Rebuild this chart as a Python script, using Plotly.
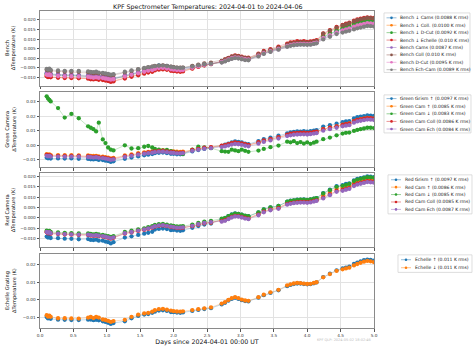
import numpy as np
import plotly.graph_objects as go

# ---------------- data (temperatures in mK relative to mean) ----------------
days = [0.10, 0.12, 0.14, 0.16, 0.27, 0.37, 0.47, 0.58,
        0.72, 0.76, 0.80, 0.84, 0.88, 0.94, 0.98, 1.02, 1.06, 1.10,
        1.27, 1.37, 1.47, 1.56, 1.62, 1.68, 1.72, 1.78, 1.84, 1.90, 1.96,
        2.00, 2.05, 2.10, 2.14, 2.28, 2.37, 2.46, 2.56,
        2.72, 2.77, 2.82, 2.87, 2.92, 2.97, 3.02, 3.07, 3.12,
        3.27, 3.35, 3.45, 3.57,
        3.70, 3.75, 3.80, 3.85, 3.90, 3.95, 4.00, 4.05, 4.10, 4.14,
        4.24, 4.34, 4.44, 4.53, 4.58, 4.63,
        4.70, 4.75, 4.80, 4.85, 4.90, 4.95, 5.00]

# Panel 1: Bench
bench_below_cams = [-8.0, -8.5, -7.9, -8.6, -8.8, -9.0, -9.1, -9.0,
    -9.4, -9.3, -9.8, -9.4, -9.9, -10.0, -10.4, -10.5, -11.0, -10.6,
    -9.2, -8.4, -7.5, -6.6, -5.9, -5.2, -4.2, -3.7, -3.9, -4.0, -4.6,
    -4.8, -5.1, -5.2, -5.1, -4.4, -3.7, -3.1, -2.8,
    -1.8, -1.0, -0.5, 0.4, 0.7, 0.3, 0.1, -0.4, -0.4,
    1.6, 2.9, 3.9, 5.1,
    6.6, 7.2, 7.1, 7.7, 7.5, 7.8, 7.4, 7.7, 8.1, 8.4,
    11.0, 12.6, 14.1, 15.2, 15.6, 16.2,
    17.3, 17.9, 18.2, 18.8, 19.0, 19.1, 18.8]
bench_below_coll = [-9.0, -9.4, -9.0, -9.6, -9.8, -10.0, -10.0, -10.1,
    -10.3, -10.6, -10.7, -10.5, -10.9, -11.0, -11.3, -11.5, -11.9, -11.7,
    -10.1, -9.3, -8.5, -7.7, -7.2, -6.8, -6.0, -5.6, -5.4, -5.7, -6.2,
    -6.3, -6.6, -6.8, -6.6, -5.2, -4.3, -3.6, -3.0,
    -1.8, -1.0, -0.2, 0.5, 1.0, 0.8, 0.3, 0.0, -0.2,
    1.8, 3.1, 4.1, 5.3,
    7.0, 7.6, 7.8, 8.2, 8.1, 8.3, 8.0, 8.4, 8.6, 9.0,
    12.2, 13.8, 15.4, 16.4, 17.1, 17.5,
    18.6, 19.2, 19.4, 20.0, 20.3, 20.2, 20.0]
bench_below_dcut = [-8.2, -8.1, -8.3, -8.4, -8.7, -9.0, -8.9, -9.1,
    -9.2, -9.6, -9.6, -9.5, -9.7, -10.0, -10.2, -10.6, -10.8, -10.7,
    -9.3, -8.5, -7.6, -6.9, -6.4, -5.9, -5.3, -4.9, -4.8, -5.1, -5.5,
    -5.8, -6.0, -6.1, -6.0, -4.9, -4.1, -3.5, -3.0,
    -1.9, -1.3, -0.5, 0.2, 0.7, 0.5, 0.0, -0.4, -0.6,
    1.5, 2.8, 3.8, 5.0,
    6.5, 7.1, 7.2, 7.6, 7.6, 7.7, 7.4, 7.7, 8.0, 8.4,
    11.4, 12.9, 14.5, 15.6, 16.0, 16.6,
    17.6, 18.3, 18.5, 19.0, 19.4, 19.3, 19.0]
bench_below_echelle = [-9.3, -9.8, -9.2, -9.9, -10.1, -10.3, -10.3, -10.4,
    -10.6, -10.9, -11.0, -10.8, -11.2, -11.3, -11.6, -11.8, -12.3, -12.0,
    -10.5, -9.6, -8.8, -8.0, -7.4, -7.0, -6.3, -5.9, -5.8, -6.0, -6.5,
    -6.7, -6.9, -7.0, -6.8, -5.4, -4.5, -3.7, -3.0,
    -1.5, -0.6, 0.2, 1.0, 1.5, 1.3, 0.8, 0.4, 0.3,
    2.4, 3.8, 4.8, 6.1,
    7.6, 8.3, 8.4, 8.9, 8.6, 8.9, 8.5, 8.8, 9.1, 9.5,
    13.0, 14.7, 16.3, 17.4, 18.0, 18.6,
    19.6, 20.2, 20.6, 21.0, 21.3, 21.2, 21.0]
bench_cams = [-7.5, -7.9, -7.4, -8.1, -8.3, -8.6, -8.4, -8.7,
    -8.8, -9.1, -9.1, -9.0, -9.4, -9.5, -9.9, -10.0, -10.5, -10.2,
    -8.8, -8.0, -7.2, -6.5, -6.0, -5.6, -5.0, -4.6, -4.5, -4.8, -5.2,
    -5.4, -5.6, -5.7, -5.6, -4.6, -3.9, -3.3, -2.9,
    -2.1, -1.5, -0.8, -0.1, 0.3, 0.1, -0.3, -0.7, -0.8,
    1.2, 2.5, 3.5, 4.6,
    6.1, 6.6, 7.0, 7.1, 7.3, 7.2, 7.2, 7.2, 7.6, 7.9,
    10.2, 11.5, 13.0, 13.8, 14.2, 14.7,
    15.5, 16.1, 16.4, 16.9, 17.2, 17.2, 17.0]
bench_coll = [-6.0, -6.4, -5.9, -6.5, -6.8, -7.0, -7.0, -7.1,
    -7.3, -7.4, -7.8, -7.5, -7.8, -8.0, -8.3, -8.5, -8.9, -8.7,
    -7.4, -6.6, -5.8, -5.2, -4.7, -4.3, -4.0, -3.8, -3.7, -4.0, -4.3,
    -4.6, -4.8, -4.9, -4.8, -3.9, -3.3, -2.7, -2.3,
    -1.3, -0.6, 0.1, 0.8, 1.2, 1.0, 0.6, 0.2, 0.1,
    2.1, 3.4, 4.4, 5.6,
    7.1, 7.7, 7.9, 8.2, 8.3, 8.3, 8.1, 8.3, 8.6, 9.0,
    12.8, 14.4, 16.0, 17.1, 17.6, 18.2,
    19.2, 19.8, 20.2, 20.6, 21.0, 20.9, 20.7]
bench_dcut = [-8.5, -8.7, -8.4, -8.9, -9.2, -9.4, -9.4, -9.5,
    -9.7, -9.9, -10.1, -9.9, -10.2, -10.3, -10.6, -10.8, -11.1, -10.9,
    -9.5, -8.6, -7.8, -7.0, -6.5, -6.1, -5.5, -5.1, -5.0, -5.3, -5.7,
    -5.9, -6.1, -6.2, -6.1, -4.9, -4.2, -3.5, -3.0,
    -1.9, -1.3, -0.6, 0.1, 0.5, 0.3, -0.1, -0.5, -0.6,
    1.4, 2.7, 3.7, 4.9,
    6.4, 6.9, 7.2, 7.4, 7.5, 7.5, 7.4, 7.5, 7.9, 8.2,
    10.6, 12.0, 13.5, 14.5, 15.0, 15.5,
    16.5, 17.1, 17.5, 17.9, 18.3, 18.2, 18.0]
bench_ech_cam = [-5.5, -5.9, -5.4, -6.0, -6.3, -6.5, -6.5, -6.6,
    -6.8, -7.1, -7.2, -7.0, -7.4, -7.6, -7.9, -8.1, -8.5, -8.3,
    -7.0, -6.3, -5.6, -5.0, -4.6, -4.3, -4.1, -3.9, -3.8, -4.1, -4.4,
    -4.7, -4.9, -5.0, -4.9, -4.2, -3.6, -3.1, -2.8,
    -2.2, -1.6, -0.9, -0.3, 0.1, -0.1, -0.5, -0.9, -1.0,
    1.0, 2.3, 3.3, 4.5,
    6.0, 6.5, 6.8, 7.0, 7.1, 7.1, 7.0, 7.1, 7.5, 7.8,
    9.8, 11.2, 12.6, 13.4, 13.9, 14.3,
    15.0, 15.6, 16.0, 16.4, 16.8, 16.7, 16.5]

# Panel 2: Green camera
green_grism_up = [-8.5, -8.9, -8.6, -9.1, -9.0, -9.1, -9.0, -9.2,
    -9.3, -9.6, -9.7, -9.5, -10.0, -10.1, -10.5, -10.8, -11.4, -11.0,
    -9.2, -8.4, -7.6, -6.9, -6.4, -6.0, -5.4, -5.1, -5.0, -5.4, -5.8,
    -5.8, -6.2, -6.2, -6.0, -4.2, -3.3, -2.5, -1.8,
    -0.4, 0.4, 1.2, 2.0, 2.6, 2.4, 1.9, 1.2, 0.8,
    2.9, 4.2, 5.2, 6.6,
    8.2, 8.9, 9.1, 9.5, 9.4, 9.6, 9.3, 9.7, 10.0, 10.4,
    12.8, 13.8, 14.8, 15.8, 16.3, 16.6,
    18.4, 19.2, 19.6, 20.0, 20.5, 20.3, 20.1]
green_cam_up = [-6.0, -6.6, -6.2, -6.8, -6.7, -6.8, -6.7, -6.9,
    -7.0, -7.3, -7.3, -7.2, -7.6, -7.8, -8.1, -8.5, -8.9, -8.7,
    -7.0, -6.3, -5.4, -4.8, -4.5, -4.1, -3.7, -3.5, -3.4, -3.8, -4.0,
    -4.2, -4.4, -4.5, -4.3, -3.2, -2.5, -1.9, -1.5,
    -0.6, -0.1, 0.5, 1.3, 1.6, 1.5, 1.0, 0.5, 0.0,
    1.8, 3.0, 4.0, 5.3,
    7.0, 7.7, 7.9, 8.3, 8.2, 8.4, 8.1, 8.4, 8.8, 9.2,
    11.0, 12.1, 13.0, 14.1, 14.4, 14.9,
    16.6, 17.3, 17.9, 18.2, 18.7, 18.5, 18.3]
green_cam_down = [33.5, 32.0, 31.0, 30.0, 25.5, 19.0, 21.5, 18.5,
    13.0, 12.0, 11.0, 9.5, 15.5, 4.0, 1.5, -1.5, -3.0, -3.5,
    0.0, -2.2, -2.0, -1.0, -0.5, -1.5, -2.5, -3.0, -3.5, -3.2, -4.0,
    -4.5, -5.0, -5.5, -6.0, -3.0, -1.0, -1.5, -2.0,
    -4.0, -4.3, -4.5, -3.0, -3.5, -4.0, -3.0, -3.8, -4.5,
    -3.6, -2.5, -1.3, -0.2,
    2.5, 2.0, 2.8, 1.5, 2.2, 1.2, 2.0, 1.0, 1.8, 2.5,
    4.2, 5.3, 6.8, 8.0, 8.5, 8.7,
    9.8, 10.5, 11.0, 11.5, 12.0, 12.0, 11.8]
green_cam_coll = [-6.6, -7.0, -6.7, -7.2, -7.2, -7.3, -7.2, -7.3,
    -7.5, -7.7, -7.9, -7.7, -8.1, -8.3, -8.6, -9.0, -9.4, -9.2,
    -7.5, -6.7, -5.9, -5.3, -4.9, -4.6, -4.2, -3.9, -3.9, -4.2, -4.6,
    -4.7, -5.0, -5.1, -4.9, -3.2, -2.4, -1.7, -1.3,
    -0.3, 0.1, 0.8, 1.5, 1.9, 1.7, 1.3, 0.7, 0.3,
    2.1, 3.3, 4.3, 5.6,
    7.3, 7.9, 8.3, 8.5, 8.6, 8.6, 8.5, 8.7, 9.1, 9.4,
    11.0, 12.0, 13.0, 14.0, 14.4, 14.8,
    16.5, 17.3, 17.8, 18.2, 18.6, 18.5, 18.3]
green_cam_ech = [-7.2, -7.5, -7.3, -7.7, -7.7, -7.8, -7.7, -7.8,
    -8.0, -8.2, -8.4, -8.2, -8.6, -8.8, -9.1, -9.5, -10.0, -9.7,
    -8.0, -7.2, -6.4, -5.8, -5.4, -5.1, -4.7, -4.4, -4.4, -4.7, -5.1,
    -5.2, -5.5, -5.6, -5.4, -3.8, -3.0, -2.3, -2.0,
    -1.2, -0.8, -0.2, 0.5, 0.9, 0.7, 0.3, -0.3, -0.7,
    1.1, 2.3, 3.3, 4.6,
    6.3, 6.8, 7.2, 7.4, 7.5, 7.5, 7.4, 7.6, 8.0, 8.3,
    10.0, 11.0, 12.0, 13.0, 13.4, 13.8,
    15.5, 16.3, 16.8, 17.2, 17.6, 17.5, 17.3]

# Panel 3: Red camera
red_grism_up = [-9.0, -9.5, -9.1, -9.7, -9.8, -10.0, -10.1, -10.3,
    -10.2, -10.6, -10.7, -10.5, -11.0, -11.0, -11.4, -11.7, -12.3, -11.7,
    -9.5, -8.9, -8.2, -7.6, -7.2, -6.7, -5.6, -5.3, -5.1, -5.4, -5.9,
    -5.8, -6.1, -6.2, -6.0, -4.8, -3.9, -3.2, -2.7,
    -0.6, -0.1, 0.9, 1.7, 2.2, 2.0, 1.6, 1.0, 0.8,
    2.7, 4.1, 5.1, 5.8,
    7.8, 8.3, 8.5, 8.8, 8.8, 8.9, 8.7, 8.9, 9.3, 9.6,
    12.0, 13.7, 15.3, 15.8, 16.4, 16.7,
    18.1, 18.9, 19.2, 19.6, 20.0, 19.9, 19.7]
red_cam_up = [-6.6, -7.2, -6.8, -7.3, -7.5, -7.7, -7.8, -8.0,
    -8.0, -8.2, -8.4, -8.2, -8.5, -8.7, -9.0, -9.3, -9.7, -9.3,
    -7.3, -6.7, -6.0, -5.5, -5.0, -4.5, -3.9, -3.5, -3.4, -3.7, -4.1,
    -4.3, -4.6, -4.6, -4.5, -4.0, -3.2, -2.6, -2.2,
    -1.2, -0.7, 0.0, 0.8, 1.4, 1.2, 0.8, 0.4, 0.0,
    1.9, 3.3, 4.3, 5.0,
    7.0, 7.5, 7.7, 8.0, 8.0, 8.1, 7.9, 8.1, 8.5, 8.8,
    10.9, 12.5, 14.1, 14.6, 15.1, 15.5,
    16.9, 17.6, 18.0, 18.4, 18.8, 18.7, 18.5]
red_cam_down = [-6.2, -6.6, -6.3, -6.8, -7.0, -7.2, -7.3, -7.5,
    -7.5, -7.7, -7.9, -7.7, -8.0, -8.2, -8.5, -8.8, -9.2, -8.8,
    -6.8, -6.2, -5.5, -5.0, -4.5, -4.0, -3.4, -3.0, -2.9, -3.2, -3.6,
    -3.8, -4.1, -4.1, -4.0, -3.2, -2.4, -1.8, -1.4,
    -0.4, 0.0, 0.8, 1.6, 2.1, 2.0, 1.6, 1.1, 0.8,
    2.7, 4.1, 5.1, 5.8,
    7.8, 8.2, 8.5, 8.7, 8.8, 8.8, 8.7, 8.9, 9.3, 9.6,
    11.8, 13.4, 15.0, 15.5, 16.0, 16.4,
    17.8, 18.5, 18.9, 19.3, 19.7, 19.6, 19.4]
red_cam_coll = [-6.9, -7.5, -7.0, -7.7, -7.8, -8.0, -8.1, -8.3,
    -8.3, -8.5, -8.7, -8.5, -8.8, -9.0, -9.3, -9.6, -10.0, -9.6,
    -7.6, -7.0, -6.3, -5.8, -5.3, -4.8, -4.2, -3.8, -3.7, -4.0, -4.4,
    -4.6, -4.9, -4.9, -4.8, -4.0, -3.2, -2.6, -2.2,
    -1.5, -1.1, -0.3, 0.5, 1.0, 0.9, 0.5, 0.0, -0.3,
    1.6, 3.0, 4.0, 4.7,
    6.7, 7.1, 7.4, 7.6, 7.7, 7.7, 7.6, 7.8, 8.2, 8.5,
    9.8, 11.4, 13.0, 13.5, 14.0, 14.4,
    15.8, 16.5, 16.9, 17.3, 17.7, 17.6, 17.4]
red_cam_ech = [-6.8, -7.2, -6.9, -7.4, -7.6, -7.8, -7.9, -8.1,
    -8.1, -8.3, -8.5, -8.3, -8.6, -8.8, -9.1, -9.4, -9.8, -9.4,
    -7.4, -6.8, -6.1, -5.6, -5.1, -4.6, -4.0, -3.6, -3.5, -3.8, -4.2,
    -4.4, -4.7, -4.7, -4.6, -3.8, -3.0, -2.4, -2.0,
    -1.8, -1.4, -0.6, 0.2, 0.7, 0.6, 0.2, -0.3, -0.6,
    1.3, 2.7, 3.7, 4.4,
    6.4, 6.8, 7.1, 7.3, 7.4, 7.4, 7.3, 7.5, 7.9, 8.2,
    9.4, 11.0, 12.6, 13.1, 13.6, 14.0,
    15.4, 16.1, 16.5, 16.9, 17.3, 17.2, 17.0]

# Panel 4: Echelle grating
echelle_up = [-9.6, -10.4, -10.0, -10.6, -11.1, -11.2, -11.3, -11.3,
    -11.1, -11.0, -11.4, -11.2, -11.5, -12.0, -12.4, -12.9, -13.5, -13.0,
    -12.0, -10.3, -9.0, -8.2, -7.9, -7.2, -6.6, -6.0, -5.8, -6.2, -6.8,
    -6.9, -7.1, -7.2, -7.0, -6.2, -5.6, -5.1, -4.6,
    -2.5, -1.6, -0.4, 0.6, 1.2, 0.6, -0.1, -0.6, -0.8,
    1.3, 2.7, 4.0, 5.5,
    7.8, 8.5, 9.0, 9.3, 9.3, 9.0, 8.8, 8.9, 9.4, 9.9,
    12.9, 14.8, 16.7, 17.8, 18.3, 18.8,
    20.3, 21.1, 21.8, 22.4, 22.8, 22.6, 22.2]
echelle_down = [-8.6, -9.4, -8.8, -9.5, -10.3, -10.3, -10.4, -10.5,
    -10.0, -9.6, -10.2, -9.5, -9.9, -11.0, -11.3, -11.8, -12.4, -11.9,
    -11.2, -9.5, -8.3, -7.6, -7.3, -6.6, -5.8, -5.2, -5.0, -5.5, -6.0,
    -6.3, -6.5, -6.6, -6.4, -5.7, -5.2, -4.7, -4.2,
    -2.0, -1.2, 0.0, 1.0, 1.6, 1.0, 0.2, -0.3, -0.5,
    1.6, 3.0, 4.3, 5.7,
    8.2, 8.8, 9.3, 9.6, 9.5, 9.2, 9.0, 9.1, 9.6, 10.0,
    12.8, 14.6, 16.4, 17.3, 17.8, 18.2,
    19.5, 20.3, 21.0, 21.6, 22.0, 21.8, 21.3]

panel_titles = ["Bench", "Green Camera", "Red Camera", "Echelle Grating"]

panel_series = [
    [("Bench ↓ Cams (0.0088 K rms)", bench_below_cams),
     ("Bench ↓ Coll. (0.0100 K rms)", bench_below_coll),
     ("Bench ↓ D-Cut (0.0092 K rms)", bench_below_dcut),
     ("Bench ↓ Echelle (0.010 K rms)", bench_below_echelle),
     ("Bench Cams (0.0087 K rms)", bench_cams),
     ("Bench Coll (0.010 K rms)", bench_coll),
     ("Bench D-Cut (0.0095 K rms)", bench_dcut),
     ("Bench Ech-Cam (0.0089 K rms)", bench_ech_cam)],
    [("Green Grism ↑ (0.0097 K rms)", green_grism_up),
     ("Green Cam ↑ (0.0085 K rms)", green_cam_up),
     ("Green Cam ↓ (0.0083 K rms)", green_cam_down),
     ("Green Cam Coll (0.0086 K rms)", green_cam_coll),
     ("Green Cam Ech (0.0084 K rms)", green_cam_ech)],
    [("Red Grism ↑ (0.0097 K rms)", red_grism_up),
     ("Red Cam ↑ (0.0086 K rms)", red_cam_up),
     ("Red Cam ↓ (0.0085 K rms)", red_cam_down),
     ("Red Cam Coll (0.0085 K rms)", red_cam_coll),
     ("Red Cam Ech (0.0087 K rms)", red_cam_ech)],
    [("Echelle ↑ (0.011 K rms)", echelle_up),
     ("Echelle ↓ (0.011 K rms)", echelle_down)],
]

# ---------------- styling / layout ----------------
colors = ["#1f77b4", "#ff7f0e", "#2ca02c", "#d62728", "#9467bd",
          "#8c564b", "#e377c2", "#7f7f7f"]
FONT = "DejaVu Sans"
W, H = 474, 354
L, R, T, B = 40, 100, 10, 19
PW, PH = W - L - R, H - T - B


def rgba(hexc, a):
    h = hexc.lstrip("#")
    return "rgba(%d,%d,%d,%.2f)" % (int(h[0:2], 16), int(h[2:4], 16), int(h[4:6], 16), a)


def px_x(px):
    return (px - L) / PW


def px_y(py):
    return (H - B - py) / PH


# pixel extents of each panel (top, bottom)
panel_px = [(10, 86.5), (93.3, 170), (176.5, 252.3), (259, 335)]
yranges = [[-0.0142, 0.0246], [-0.0149, 0.0363], [-0.0142, 0.0215], [-0.0158, 0.026]]
ydticks = [0.005, 0.01, 0.005, 0.01]
yfmts = [".3f", ".2f", ".3f", ".2f"]

fig = go.Figure()
x = np.array(days)
for p, series in enumerate(panel_series):
    axn = "" if p == 0 else str(p + 1)
    for i, (name, vals) in enumerate(series):
        c = colors[i]
        fig.add_trace(go.Scatter(
            x=x, y=np.array(vals) / 1000.0, mode="lines+markers", name=name,
            xaxis="x" + axn, yaxis="y" + axn, showlegend=False,
            line=dict(color=rgba(c, 0.45), width=0.6),
            marker=dict(color=c, size=4.3, line=dict(width=0))))

layout = dict(
    width=W, height=H, margin=dict(l=L, r=R, t=T, b=B),
    paper_bgcolor="white", plot_bgcolor="white",
    font=dict(family=FONT, size=5, color="#222"),
    showlegend=False,
)
axis_common = dict(showline=True, mirror=True, linecolor="#8a8a8a", linewidth=1,
                   showgrid=True, gridcolor="#e2e2e2", gridwidth=0.6,
                   ticks="outside", ticklen=2.5, tickwidth=0.7, tickcolor="#555",
                   zeroline=False, tickfont=dict(size=4.2, family=FONT, color="#333"))
for p in range(4):
    axn = "" if p == 0 else str(p + 1)
    top, bot = panel_px[p]
    xa = dict(axis_common, domain=[0, 1], range=[0, 5], dtick=0.5,
              tick0=0, tickformat=".1f", anchor="y" + axn,
              showticklabels=(p == 3))
    if p == 3:
        xa["title"] = dict(text="Days since 2024-04-01 00:00 UT",
                           font=dict(size=6.3, color="#111", family=FONT), standoff=2)
    else:
        xa["matches"] = "x4"
    layout["xaxis" + axn] = xa
    layout["yaxis" + axn] = dict(axis_common, domain=[px_y(bot), px_y(top)],
                                 range=yranges[p], dtick=ydticks[p], tick0=0,
                                 tickformat=yfmts[p], anchor="x" + axn)
fig.update_layout(**layout)

annotations = []
shapes = []
# title, axis labels, footer
annotations.append(dict(text="KPF Spectrometer Temperatures: 2024-04-01 to 2024-04-06",
                        x=0.5, y=px_y(5.5), xref="paper", yref="paper", showarrow=False,
                        xanchor="center", yanchor="middle", font=dict(size=6.3, color="#111")))
annotations.append(dict(text="KPF QLP: 2024-05-02 18:02:46",
                        x=px_x(373), y=px_y(347.5), xref="paper", yref="paper", showarrow=False,
                        xanchor="right", yanchor="middle", font=dict(size=3.5, color="#bbbbbb")))
for p in range(4):
    top, bot = panel_px[p]
    annotations.append(dict(text=panel_titles[p] + "<br>ΔTemperature (K)",
                            x=px_x(11), y=px_y((top + bot) / 2), xref="paper", yref="paper",
                            showarrow=False, textangle=-90, xanchor="center", yanchor="middle",
                            font=dict(size=5.1, color="#111")))

# hand-built legends (box, line sample, marker, text)
legend_boxes = [(384, 470, 12, 73, 17.0, 7.6, 386.5),
                (384, 471, 96, 135, 99.8, 7.8, 386.5),
                (388, 472, 178, 218, 183.0, 7.6, 391.0),
                (398, 472, 260, 278, 265.0, 8.2, 401.0)]
for p, series in enumerate(panel_series):
    x0, x1, y0, y1, ey, dy, lx = legend_boxes[p]
    shapes.append(dict(type="rect", xref="paper", yref="paper",
                       x0=px_x(x0), x1=px_x(x1), y0=px_y(y1), y1=px_y(y0),
                       line=dict(color="#d0d0d0", width=0.7), fillcolor="white"))
    for i, (name, _) in enumerate(series):
        yy = ey + i * dy
        c = colors[i]
        shapes.append(dict(type="line", xref="paper", yref="paper",
                           x0=px_x(lx), x1=px_x(lx + 10), y0=px_y(yy), y1=px_y(yy),
                           line=dict(color=rgba(c, 0.7), width=0.7)))
        shapes.append(dict(type="circle", xref="paper", yref="paper",
                           xsizemode="pixel", ysizemode="pixel",
                           xanchor=px_x(lx + 5), yanchor=px_y(yy),
                           x0=-1.3, x1=1.3, y0=-1.3, y1=1.3,
                           fillcolor=c, line=dict(width=0)))
        annotations.append(dict(text=name, x=px_x(lx + 12.5), y=px_y(yy),
                                xref="paper", yref="paper", showarrow=False,
                                xanchor="left", yanchor="middle", borderpad=0,
                                font=dict(size=4.5, color="#222")))

fig.update_layout(annotations=annotations, shapes=shapes)
fig.write_html("out.html")
